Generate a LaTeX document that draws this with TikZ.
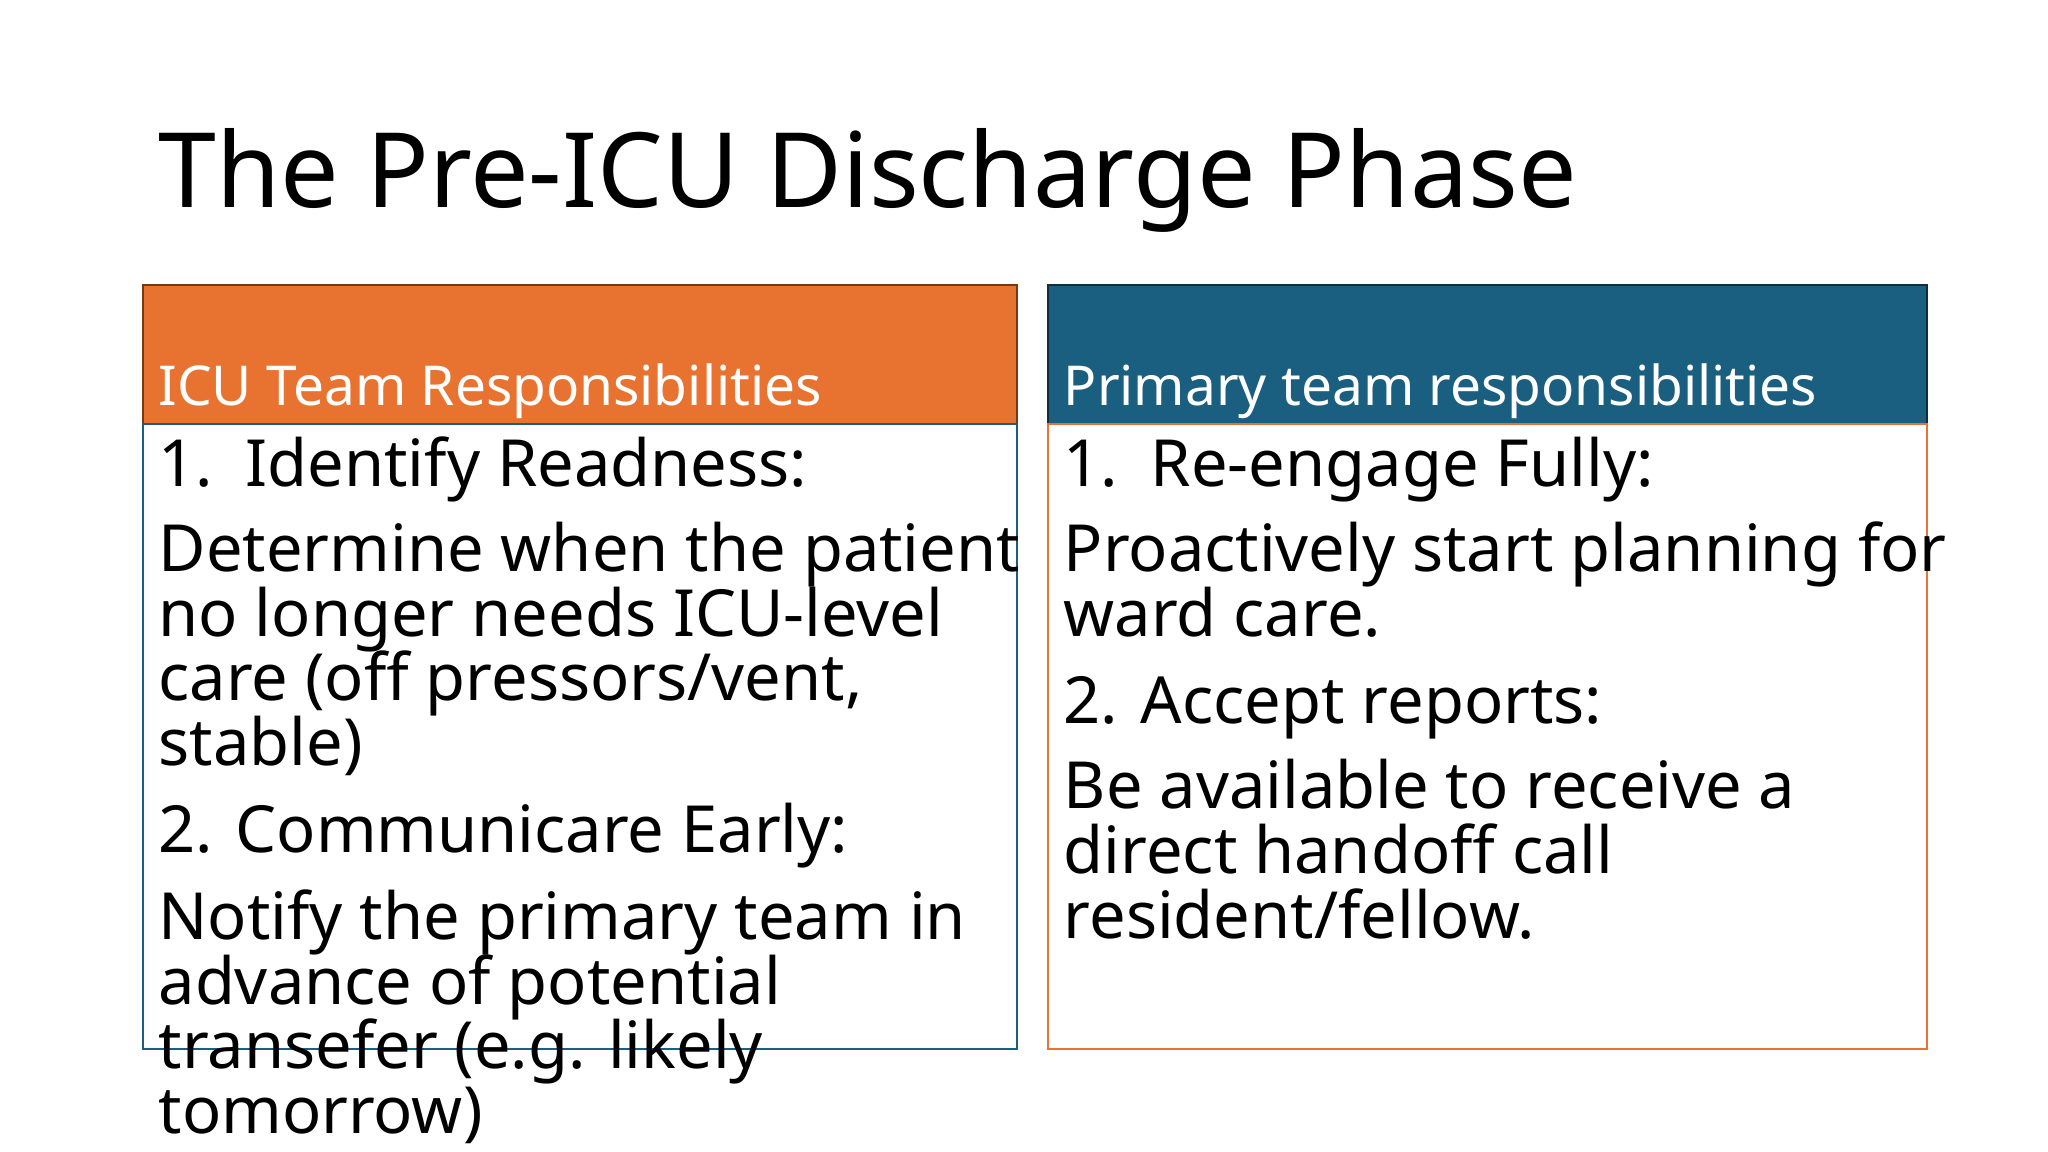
\documentclass[tikz,border=0pt]{standalone}
\usepackage{fontspec}
\setmainfont{Noto Sans}
\definecolor{org}{HTML}{E87331}
\definecolor{blu}{HTML}{1A5F80}
\begin{document}
\begin{tikzpicture}[x=1.3196pt,y=-1.3196pt,
  body/.style={anchor=base west,inner sep=0pt,font=\fontsize{65}{65}\selectfont},
  head/.style={anchor=base west,inner sep=0pt,text=white,font=\fontsize{55}{55}\selectfont\bfseries}]
\useasboundingbox[fill=white] (0,0) rectangle (1552,873);
\node[anchor=base west,inner sep=0pt,font=\fontsize{104}{104}\selectfont] (title) at (120,157) {The Pre-ICU Discharge Phase};
% left
\fill[org] (108,216) rectangle (771,321);
\draw[line width=2pt,black!50!org] (108,216) rectangle (771,321);
\draw[line width=2pt,blu] (108,321) rectangle (771,795);
\node[head] (lh) at (120,307) {ICU Team Responsibilities};
\node[body] (l1n) at (120,369) {1.};
\node[body] (l1) at (186,369) {Identify Readness:};
\node[body] (l2) at (120,433) {Determine when the patient};
\node[body] (l3) at (120,482) {no longer needs ICU-level};
\node[body] (l4) at (120,531) {care (off pressors/vent,};
\node[body] (l5) at (120,580) {stable)};
\node[body] (l6) at (120,646) {2. Communicare Early:};
\node[body] (l7) at (120,712) {Notify the primary team in};
\node[body] (l8) at (120,761) {advance of potential};
\node[body] (l9) at (120,810) {transefer (e.g. likely};
\node[body] (l10) at (120,859) {tomorrow)};
% right
\fill[blu] (794,216) rectangle (1460,321);
\draw[line width=2pt,black!50!blu] (794,216) rectangle (1460,321);
\draw[line width=2pt,org] (794,321) rectangle (1460,795);
\node[head] (rh) at (806,307) {Primary team responsibilities};
\node[body] (r1n) at (806,369) {1.};
\node[body] (r1) at (872,369) {Re-engage Fully:};
\node[body] (r2) at (806,433) {Proactively start planning for};
\node[body] (r3) at (806,482) {ward care.};
\node[body] (r4) at (806,548) {2. Accept reports:};
\node[body] (r5) at (806,613) {Be available to receive a};
\node[body] (r6) at (806,662) {direct handoff call};
\node[body] (r7) at (806,711) {resident/fellow.};
\end{tikzpicture}
\end{document}
